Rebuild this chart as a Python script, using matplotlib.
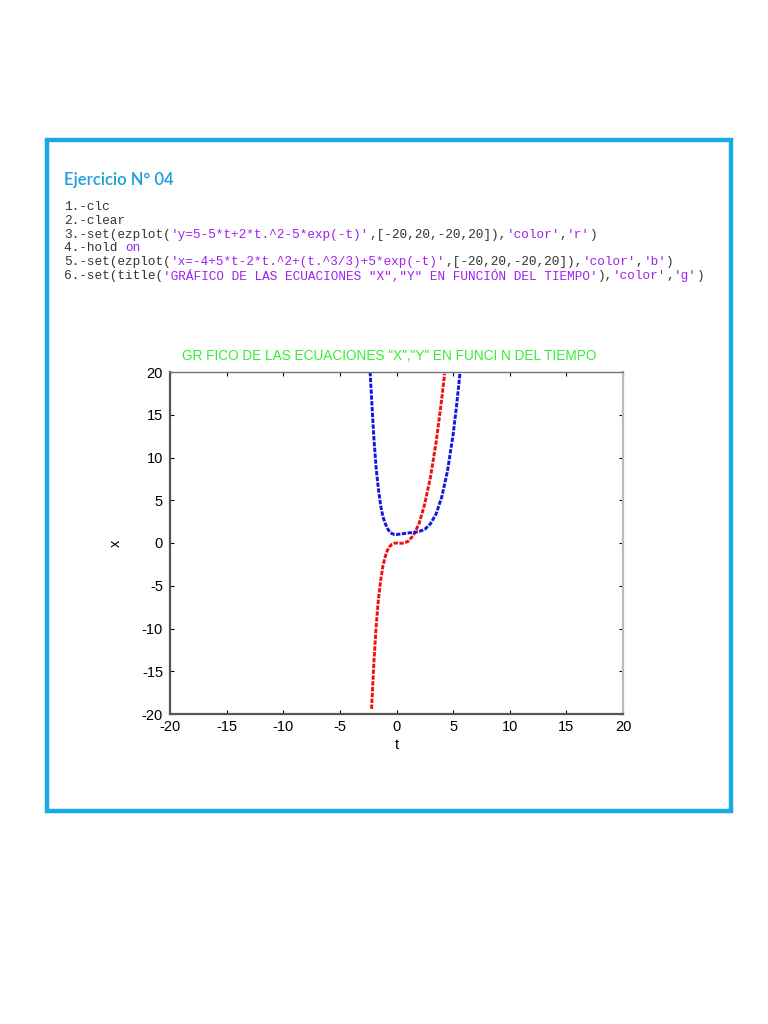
import matplotlib

matplotlib.use("Agg")
import matplotlib.pyplot as plt
from matplotlib.patches import Rectangle

plt.rcParams["axes.unicode_minus"] = False

# curves (t, value)
t_red = [-2.2, -2.0, -1.8, -1.6, -1.4, -1.2, -1.0, -0.8, -0.6, -0.4, -0.2, 0.0,
         0.5, 1.0, 1.5, 2.0, 2.5, 3.0, 3.5, 4.0, 4.25]
y_red = [-19.4, -14.0, -9.8, -6.6, -4.4, -2.7, -1.6, -0.85, -0.4, -0.15, -0.03, 0.0,
         -0.03, 0.16, 0.9, 2.3, 4.6, 7.7, 11.8, 16.9, 19.8]

t_blue = [-2.33, -2.2, -2.0, -1.8, -1.6, -1.4, -1.2, -1.0, -0.8, -0.6, -0.4, -0.2, 0.0,
          0.5, 1.0, 1.5, 2.0, 2.5, 3.0, 3.5, 4.0, 4.5, 5.0, 5.3, 5.6]
x_blue = [20.0, 16.9, 12.3, 8.8, 6.3, 4.4, 3.1, 2.3, 1.7, 1.3, 1.1, 1.0, 1.0,
          1.07, 1.17, 1.24, 1.34, 1.6, 2.25, 3.4, 5.4, 8.4, 12.7, 16.0, 19.8]

ticks = [-20, -15, -10, -5, 0, 5, 10, 15, 20]

header = "Ejercicio N° 04"
code_lines = [
    [("1.-clc", "k")],
    [("2.-clear", "k")],
    [("3.-set(ezplot(", "k"), ("'y=5-5*t+2*t.^2-5*exp(-t)'", "p"), (",[-20,20,-20,20]),", "k"),
     ("'color'", "p"), (",", "k"), ("'r'", "p"), (")", "k")],
    [("4.-hold ", "k"), ("on", "p")],
    [("5.-set(ezplot(", "k"), ("'x=-4+5*t-2*t.^2+(t.^3/3)+5*exp(-t)'", "p"), (",[-20,20,-20,20]),", "k"),
     ("'color'", "p"), (",", "k"), ("'b'", "p"), (")", "k")],
    [("6.-set(title(", "k"), ("'GRÁFICO DE LAS ECUACIONES \"X\",\"Y\" EN FUNCIÓN DEL TIEMPO'", "p"),
     ("),", "k"), ("'color'", "p"), (",", "k"), ("'g'", "p"), (")", "k")],
]
chart_title = 'GR FICO DE LAS ECUACIONES "X","Y" EN FUNCI N DEL TIEMPO'

W, H = 768, 1024
fig = plt.figure(figsize=(W / 100, H / 100), dpi=100)
renderer = fig.canvas.get_renderer()

# page frame
frame = Rectangle((47 / W, 1 - 811 / H), (731 - 47) / W, (811 - 140) / H,
                  transform=fig.transFigure, fill=False, edgecolor="#19a9e4", lw=3.2)
fig.add_artist(frame)

fig.text(64 / W, 1 - 180 / H, header, color="#1d9fd9", fontsize=12,
         fontfamily="Lato", fontweight="semibold", va="center")

cols = {"k": "#333333", "p": "#a020f0"}
fs_code = 9.2
for i, segs in enumerate(code_lines):
    y = 1 - (207 + i * 13.8) / H
    # draw full line first in black to get the char positions, then
    # overlay the coloured pieces at the measured prefix width
    full = "".join(s for s, _ in segs)
    pos = 0
    for txt, c in segs:
        if pos == 0:
            x_px = 64
        else:
            probe = fig.text(0, 0, full[:pos] + "|", fontsize=fs_code,
                             fontfamily="Liberation Mono")
            bar = fig.text(0, 0, "|", fontsize=fs_code, fontfamily="Liberation Mono")
            w = probe.get_window_extent(renderer).width - bar.get_window_extent(renderer).width
            probe.remove()
            bar.remove()
            x_px = 64 + w
        fig.text(x_px / W, y, txt, color=cols[c], fontsize=fs_code,
                 fontfamily="Liberation Mono", va="center")
        pos += len(txt)

ax = fig.add_axes([170 / W, 1 - 714 / H, 453 / W, 342 / H])
ax.plot(t_red, y_red, color="#ee1111", lw=2.1, ls=(0, (1.5, 0.5)))
ax.plot(t_blue, x_blue, color="#1515dd", lw=2.1, ls=(0, (1.5, 0.5)))
ax.set_xlim(-20, 20)
ax.set_ylim(-20, 20)
ax.set_xticks(ticks)
ax.set_yticks(ticks)
ax.tick_params(direction="in", length=3, width=0.8, top=True, right=True,
               labelsize=10.5)
ax.tick_params(axis="y", pad=5)
ax.tick_params(axis="x", pad=4)
for lab in ax.get_xticklabels() + ax.get_yticklabels():
    lab.set_fontfamily("Liberation Sans")
ax.spines["left"].set_color("#555555")
ax.spines["bottom"].set_color("#555555")
ax.spines["left"].set_linewidth(1.6)
ax.spines["bottom"].set_linewidth(1.6)
ax.spines["top"].set_color("#777777")
ax.spines["top"].set_linewidth(1.0)
ax.spines["right"].set_color("#bbbbbb")
ax.spines["right"].set_linewidth(1.6)
ax.set_xlabel("t", fontsize=10.5, fontfamily="Liberation Sans", labelpad=3)
ax.set_ylabel("x", fontsize=10.5, fontfamily="Liberation Sans", labelpad=14)
ax.set_title(chart_title, color="#33ee33", fontsize=9.8,
             fontfamily="Liberation Sans", pad=9, x=0.484)

fig.savefig("out.png", dpi=100)
